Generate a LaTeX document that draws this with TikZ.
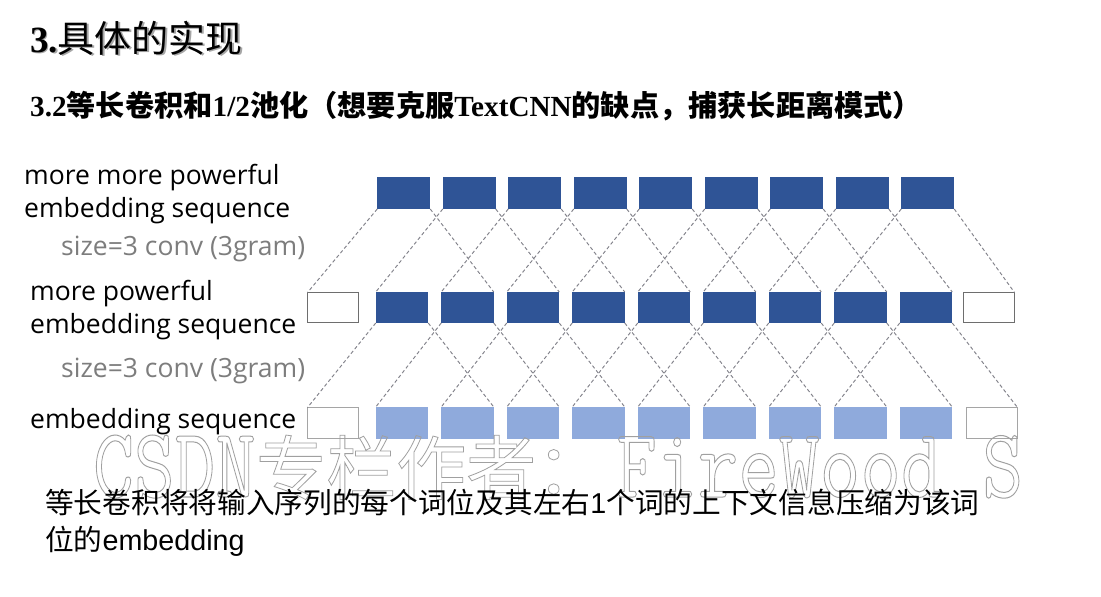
\documentclass[tikz,border=0pt]{standalone}
\usepackage{fontspec}
\setmainfont{Liberation Serif}
\newfontfamily\cjk{Noto Sans CJK SC}
\newfontfamily\lblfont{Open Sans}
\newfontfamily\arial{Liberation Sans}
\definecolor{dkblue}{RGB}{47,84,150}
\definecolor{ltblue}{RGB}{143,170,220}
\definecolor{dashgray}{RGB}{130,130,138}
\definecolor{midgray}{RGB}{110,110,110}
\definecolor{lowgray}{RGB}{165,165,165}
\definecolor{labelgray}{RGB}{125,125,125}
\definecolor{wmgray}{RGB}{160,160,160}
\newcommand{\outlinetext}[1]{\special{pdf:literal direct 1 Tr 0.8 w}#1\special{pdf:literal direct 0 Tr}}
\begin{document}
\begin{tikzpicture}[x=1pt,y=-1pt,
  box/.style={minimum width=53pt,minimum height=32pt,inner sep=0pt,outer sep=0pt},
  dk/.style={box,fill=dkblue},
  lt/.style={box,fill=ltblue},
  wmid/.style={box,draw=midgray,line width=1.3pt,fill=white,minimum width=51pt,minimum height=30pt},
  wlow/.style={box,draw=lowgray,line width=1pt,fill=white,minimum width=51pt,minimum height=31pt},
  conn/.style={draw=dashgray,line width=0.95pt,dash pattern=on 3.5pt off 2.5pt},
  lbl/.style={anchor=base west,inner sep=0pt,font=\lblfont\fontsize{26.5}{30}\selectfont,text=black},
  glbl/.style={lbl,text=labelgray},
  txt/.style={anchor=base west,inner sep=0pt},
  wmtxt/.style={anchor=base west,inner sep=0pt,text=wmgray}
]
\useasboundingbox (0,0) rectangle (1101,597);
\fill[white] (0,0) rectangle (1101,597);

% title
\node[txt,text=black!35] (titleshadow) at (31.5,53.5) {\fontsize{37}{40}\selectfont\bfseries 3.{\cjk\mdseries 具体的实现}};
\node[txt] (title) at (30,52) {\fontsize{37}{40}\selectfont\bfseries 3.{\cjk\mdseries 具体的实现}};
\node[txt] (sub) at (30,116) {\fontsize{29.2}{32}\selectfont\bfseries 3.2{\cjk 等长卷积和}1/2{\cjk 池化（想要克服}TextCNN{\cjk 的缺点，捕获长距离模式）}};

% boxes
\foreach \i in {1,...,9} \node[dk] (t\i) at ({403.75+65.5*(\i-1)},193) {};
\node[wmid] (m1) at (333,307.5) {};
\foreach \i in {2,...,10} \node[dk,minimum width=52.5pt,minimum height=31pt] (m\i) at ({402+65.5*(\i-2)},307.5) {};
\node[wmid] (m11) at (989,307.5) {};
\node[wlow] (b1) at (333,423) {};
\foreach \i in {2,...,10} \node[lt,minimum width=52.5pt] (b\i) at ({402+65.5*(\i-2)},423) {};
\node[wlow] (b11) at (992,423) {};

% connectors
\foreach \i in {1,...,9} {
  \pgfmathtruncatemacro\kk{\i+2}
  \draw[conn] (t\i.south west) -- (m\i.north west);
  \draw[conn] (t\i.south east) -- (m\kk.north east);
}
\foreach \j in {2,...,10} {
  \pgfmathtruncatemacro\aa{\j-1}
  \pgfmathtruncatemacro\cc{\j+1}
  \draw[conn] (m\j.south west) -- (b\aa.north west);
  \draw[conn] (m\j.south east) -- (b\cc.north east);
}

% labels
\node[lbl] (l1) at (24,184) {more more powerful};
\node[lbl] (l2) at (24,217) {embedding sequence};
\node[glbl] (s1) at (61,255) {size=3 conv (3gram)};
\node[lbl] (l3) at (30,300) {more powerful};
\node[lbl] (l4) at (30,333) {embedding sequence};
\node[glbl] (s2) at (61,377) {size=3 conv (3gram)};
\node[lbl] (l5) at (30,428) {embedding sequence};

% watermark
\node[wmtxt] (wmA) at (93,497) {\fontsize{79}{80}\selectfont\ttfamily\outlinetext{\scalebox{1}[1.26]{CSDN}}};
\node[wmtxt] (wmB) at (256,494) {\fontsize{70}{72}\selectfont\cjk\outlinetext{专栏作者：}};
\node[wmtxt] (wmC) at (616,497) {\fontsize{79}{84}\selectfont\ttfamily\outlinetext{\scalebox{1}[1.25]{FireWood S}}};

% description
\node[txt] (d1) at (45,513) {\fontsize{28.7}{30}\selectfont{\cjk 等长卷积将将输入序列的每个词位及其左右}{\arial 1}{\cjk 个词的上下文信息压缩为该词}};
\node[txt] (d2) at (45,550) {\fontsize{28.7}{30}\selectfont{\cjk 位的}{\arial embedding}};
\end{tikzpicture}
\end{document}
